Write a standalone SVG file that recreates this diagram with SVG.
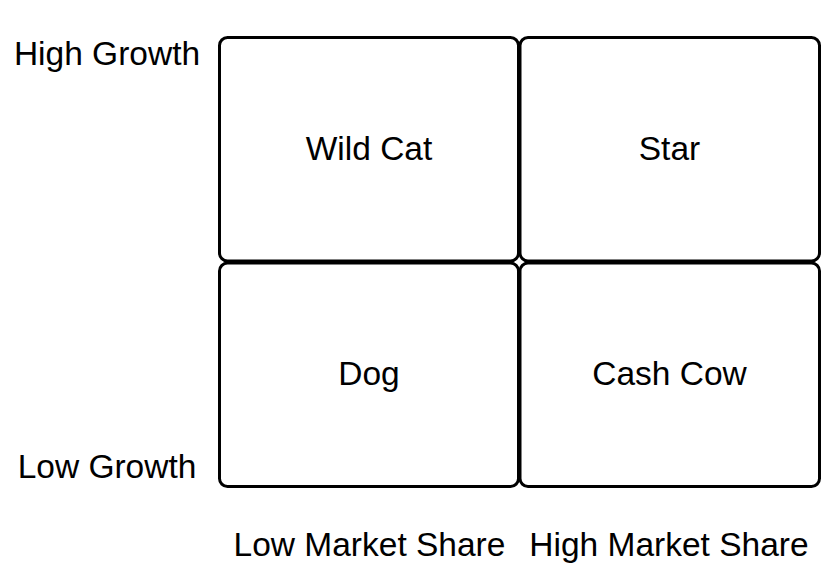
<svg xmlns="http://www.w3.org/2000/svg" width="836" height="583" viewBox="0 0 836 583">
<style>
.box{fill:#ffffff;stroke:#000000;stroke-width:3}
.t{font-family:"Liberation Sans",Arial,sans-serif;font-size:33.5px;fill:#000000;text-anchor:middle}
</style>
<rect width="836" height="583" fill="#ffffff"/>
<g id="wild-cat"><rect class="box" x="219.5" y="37.5" width="299" height="223.5" rx="8"/><text class="t" x="369" y="159.5">Wild Cat</text></g>
<g id="star"><rect class="box" x="520" y="37.5" width="299.5" height="223.5" rx="8"/><text class="t" x="669.5" y="159.5">Star</text></g>
<g id="dog"><rect class="box" x="219.5" y="263" width="299" height="223.5" rx="8"/><text class="t" x="369" y="385">Dog</text></g>
<g id="cash-cow"><rect class="box" x="520" y="263" width="299.5" height="223.5" rx="8"/><text class="t" x="669.5" y="385">Cash Cow</text></g>
<g id="labels">
<text class="t" x="107" y="65">High Growth</text>
<text class="t" x="107" y="477.5">Low Growth</text>
<text class="t" x="369.5" y="556">Low Market Share</text>
<text class="t" x="669" y="556">High Market Share</text>
</g>
<g id="connectors"></g>
</svg>
